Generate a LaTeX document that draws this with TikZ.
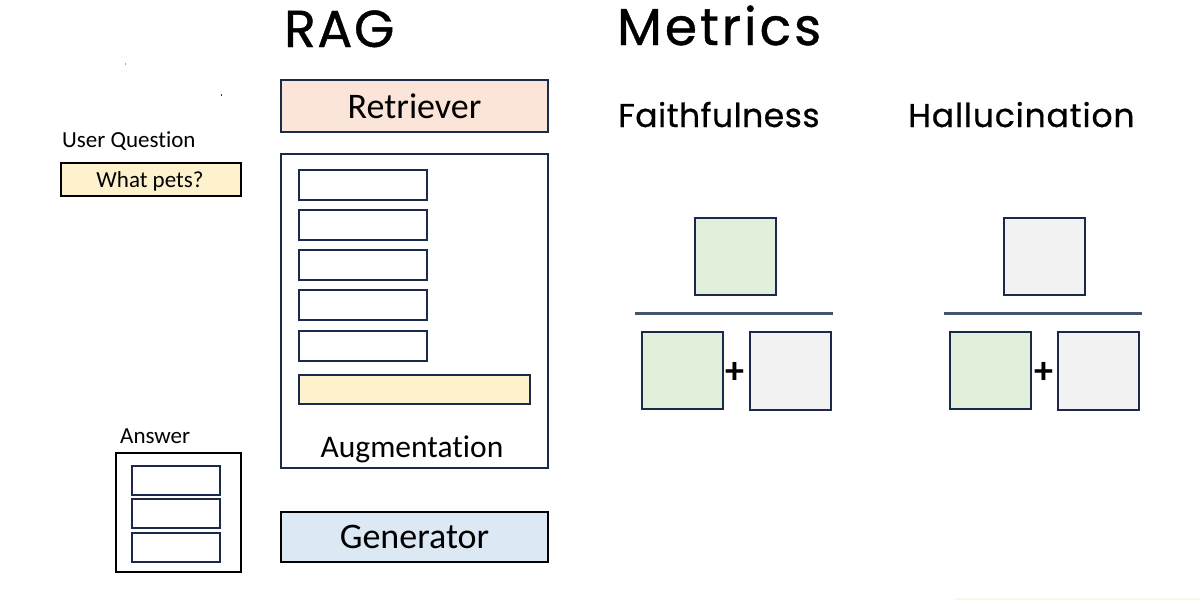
\documentclass[tikz,border=0pt]{standalone}
\usepackage{fontspec}
\setmainfont{Carlito}[Ligatures=NoCommon]
\newfontfamily\handfont{Poppins}
\definecolor{navy}{HTML}{1B2A4A}
\definecolor{peach}{HTML}{FBE5D8}
\definecolor{cream}{HTML}{FEF2CD}
\definecolor{sky}{HTML}{DCE9F5}
\definecolor{sage}{HTML}{E2EFDA}
\definecolor{mist}{HTML}{F2F2F2}
\definecolor{rule}{HTML}{44546A}
\tikzset{
  x=1pt,y=-1pt,
  box/.style={draw=navy,line width=2pt,inner sep=0pt,outer sep=0pt,anchor=north west},
  slotbox/.style={box,minimum width=128pt,minimum height=30pt},
  ansbox/.style={box,minimum width=88pt,minimum height=29pt},
  square/.style={box,minimum width=81pt,minimum height=77pt},
  handtitle/.style={font=\handfont\fontsize{52}{52}\selectfont,anchor=base west,inner sep=0pt},
  handsub/.style={font=\handfont\fontsize{33}{33}\selectfont,anchor=base west,inner sep=0pt},
  bigtext/.style={font=\fontsize{36}{36}\selectfont,inner sep=0pt},
  midtext/.style={font=\fontsize{31.5}{31.5}\selectfont,inner sep=0pt},
  smalltext/.style={font=\fontsize{23}{23}\selectfont,anchor=base west,inner sep=0pt},
  ruleline/.style={draw=rule,line width=3pt},
  plussign/.style={font=\bfseries\fontsize{38}{38}\selectfont,inner sep=0pt}
}
\begin{document}
\begin{tikzpicture}
\useasboundingbox (0,0) rectangle (1200,600);
\fill[white] (0,0) rectangle (1200,600);
\fill[cream!60] (955,598) rectangle (1200,600);
\fill[red!50] (124.5,63) rectangle (126,64.5);
\fill[black!80] (220.5,94) rectangle (222,95.5);
\node[handtitle] (ragt) at (284,47) {\addfontfeature{LetterSpace=3,FakeBold=0.8}RAG};
\node[handtitle] (mett) at (617,45) {\addfontfeature{LetterSpace=5.5,FakeBold=0.8}Metrics};
\node[handsub] (fai) at (618,127) {\addfontfeature{LetterSpace=1.4,FakeBold=0.6}Faithfulness};
\node[handsub] (hal) at (908,127) {\addfontfeature{LetterSpace=2.5,FakeBold=0.6}Hallucination};
\node[box,fill=peach,minimum width=267pt,minimum height=52pt] (ret) at (281,80) {};
\node[bigtext] at (ret.center) {Retriever};
\node[smalltext] (uq) at (62,147) {User Question};
\node[box,draw=black,fill=cream,minimum width=180pt,minimum height=33pt] (wp) at (61,163) {};
\node[font=\fontsize{23}{23}\selectfont,inner sep=0pt] at (150,181) {What pets?};
\node[box,minimum width=267pt,minimum height=314pt] (aug) at (281,154) {};
\node[slotbox] (s1) at (299,170) {};
\node[slotbox] (s2) at (299,210) {};
\node[slotbox] (s3) at (299,250) {};
\node[slotbox] (s4) at (299,290) {};
\node[slotbox] (s5) at (299,331) {};
\node[box,fill=cream,minimum width=231pt,minimum height=29pt] (s6) at (299,375) {};
\node[midtext] (augt) at (412,449) {Augmentation};
\node[box,draw=black,fill=sky,minimum width=267pt,minimum height=50pt] (gen) at (281,512) {};
\node[bigtext] at (gen.center) {Generator};
\node[smalltext] (ans) at (120,443) {Answer};
\node[box,draw=black,minimum width=125pt,minimum height=119pt] (abox) at (116,453) {};
\node[ansbox] (a1) at (132,466) {};
\node[ansbox] (a2) at (132,499) {};
\node[ansbox] (a3) at (132,533) {};
% Faithfulness
\node[square,fill=sage] (fn) at (695,218) {};
\coordinate (fl) at (635,313); \coordinate (fr) at (833,313);
\draw[ruleline] (fl) -- (fr);
\node[square,fill=sage] (fd1) at (642,332) {};
\node[square,fill=mist,minimum height=78pt] (fd2) at (749.5,332) {};
\node[plussign] at (735,373) {+};
% Hallucination
\node[square,fill=mist] (hn) at (1003.5,218) {};
\coordinate (hl) at (944,313); \coordinate (hr) at (1142,313);
\draw[ruleline] (hl) -- (hr);
\node[square,fill=sage] (hd1) at (950,332) {};
\node[square,fill=mist,minimum height=78pt] (hd2) at (1058,332) {};
\node[plussign] at (1044,373) {+};
\end{tikzpicture}
\end{document}
